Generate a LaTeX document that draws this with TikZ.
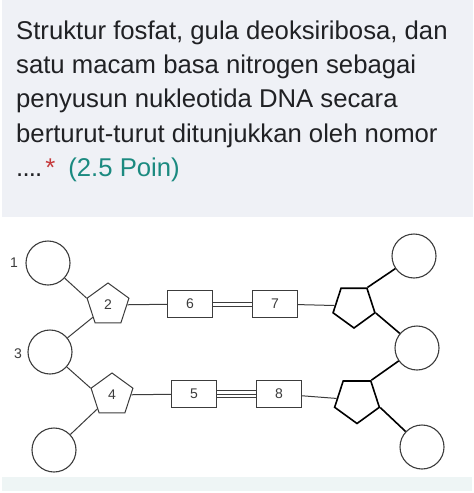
\documentclass[tikz,border=0pt]{standalone}
\usepackage{fontspec}
\setmainfont{Liberation Sans}
\usetikzlibrary{shapes.geometric}
\definecolor{panel}{HTML}{EFF1F6}
\definecolor{strip}{HTML}{EEF5F5}
\definecolor{ink}{HTML}{202124}
\definecolor{star}{HTML}{C5393B}
\definecolor{poin}{HTML}{1B8A80}
\definecolor{sketch}{HTML}{3C3C3C}

\begin{document}
\begin{tikzpicture}[x=1pt,y=-1pt,
  soal/.style={anchor=base west,inner sep=0pt,text=ink,font=\fontsize{25.7}{26}\selectfont},
  fosfat/.style={draw=sketch,circle,line width=1.1pt,minimum size=44pt,inner sep=0pt},
  gula/.style={draw=sketch,regular polygon,regular polygon sides=5,line width=1pt,minimum size=44pt,inner sep=0pt,text=sketch,font=\fontsize{14}{14}\selectfont},
  gulakanan/.style={gula,shape border rotate=180,draw=black,line width=1.6pt},
  basa/.style={draw=sketch,rectangle,line width=1pt,minimum width=45pt,minimum height=27pt,inner sep=0pt,text=sketch,font=\fontsize{14}{14}\selectfont},
  nomor/.style={text=sketch,inner sep=0pt,font=\fontsize{14}{14}\selectfont},
  ikatan/.style={draw=sketch,line width=1pt}]
\useasboundingbox (0,0) rectangle (474,493);
\fill[white] (0,0) rectangle (474,493);
\fill[panel] (2,0) rectangle (473,217);
\fill[strip] (2,477) rectangle (472,491);

\node[soal] (l1) at (16,39) {Struktur fosfat, gula deoksiribosa, dan};
\node[soal] (l2) at (16,73.5) {satu macam basa nitrogen sebagai};
\node[soal] (l3) at (16,107.5) {penyusun nukleotida DNA secara};
\node[soal] (l4) at (16,142) {berturut-turut ditunjukkan oleh nomor};
\node[soal] (l5) at (16,176) {.\kern-0.8pt.\kern-0.8pt.\kern-0.8pt.\hspace{3pt}\textcolor{star}{*}\hspace{13pt}\textcolor{poin}{(2.5 Poin)}};

\node[fosfat] (c1) at (48,263) {};
\node[fosfat] (c3) at (50,352) {};
\node[fosfat] (c0) at (54,450) {};
\node[fosfat] (k1) at (414,256) {};
\node[fosfat] (k2) at (417,348) {};
\node[fosfat] (k3) at (422,447) {};
\node[nomor] (n1) at (14,263) {1};
\node[nomor] (n3) at (18,354) {3};

\node[gula] (g2) at (108,305) {2};
\node[gula] (g4) at (112,395) {4};
\node[gulakanan] (h1) at (354,306) {};
\node[gulakanan,minimum size=47pt] (h2) at (357,400) {};

\node[basa] (b6) at (190,304) {6};
\node[basa] (b7) at (275,304) {7};
\node[basa] (b5) at (194,394) {5};
\node[basa] (b8) at (279,394) {8};

\draw[ikatan] (c1) -- (g2.corner 2);
\draw[ikatan] (g2) -- (c3);
\draw[ikatan] (c3) -- (g4.corner 2);
\draw[ikatan] (g4) -- (c0);
\draw[ikatan] (g2) -- (b6);
\draw[ikatan] (g4) -- (b5);
\draw[ikatan] (b7) -- (h1);
\draw[ikatan] (b8) -- (h2);
\draw[ikatan,line width=1.6pt,draw=black] (h1.corner 3) -- (k1);
\draw[ikatan,line width=1.6pt,draw=black] (h1.corner 2) -- (k2);
\draw[ikatan,line width=1.6pt,draw=black] (k2) -- (h2.corner 3);
\draw[ikatan,line width=1.6pt,draw=black] (h2.corner 2) -- (k3);

\draw[ikatan,double,double distance=3pt] (b6) -- (b7);
\draw[ikatan,double,double distance=6pt] (b5) -- (b8);
\draw[ikatan] (b5) -- (b8);
\end{tikzpicture}
\end{document}
